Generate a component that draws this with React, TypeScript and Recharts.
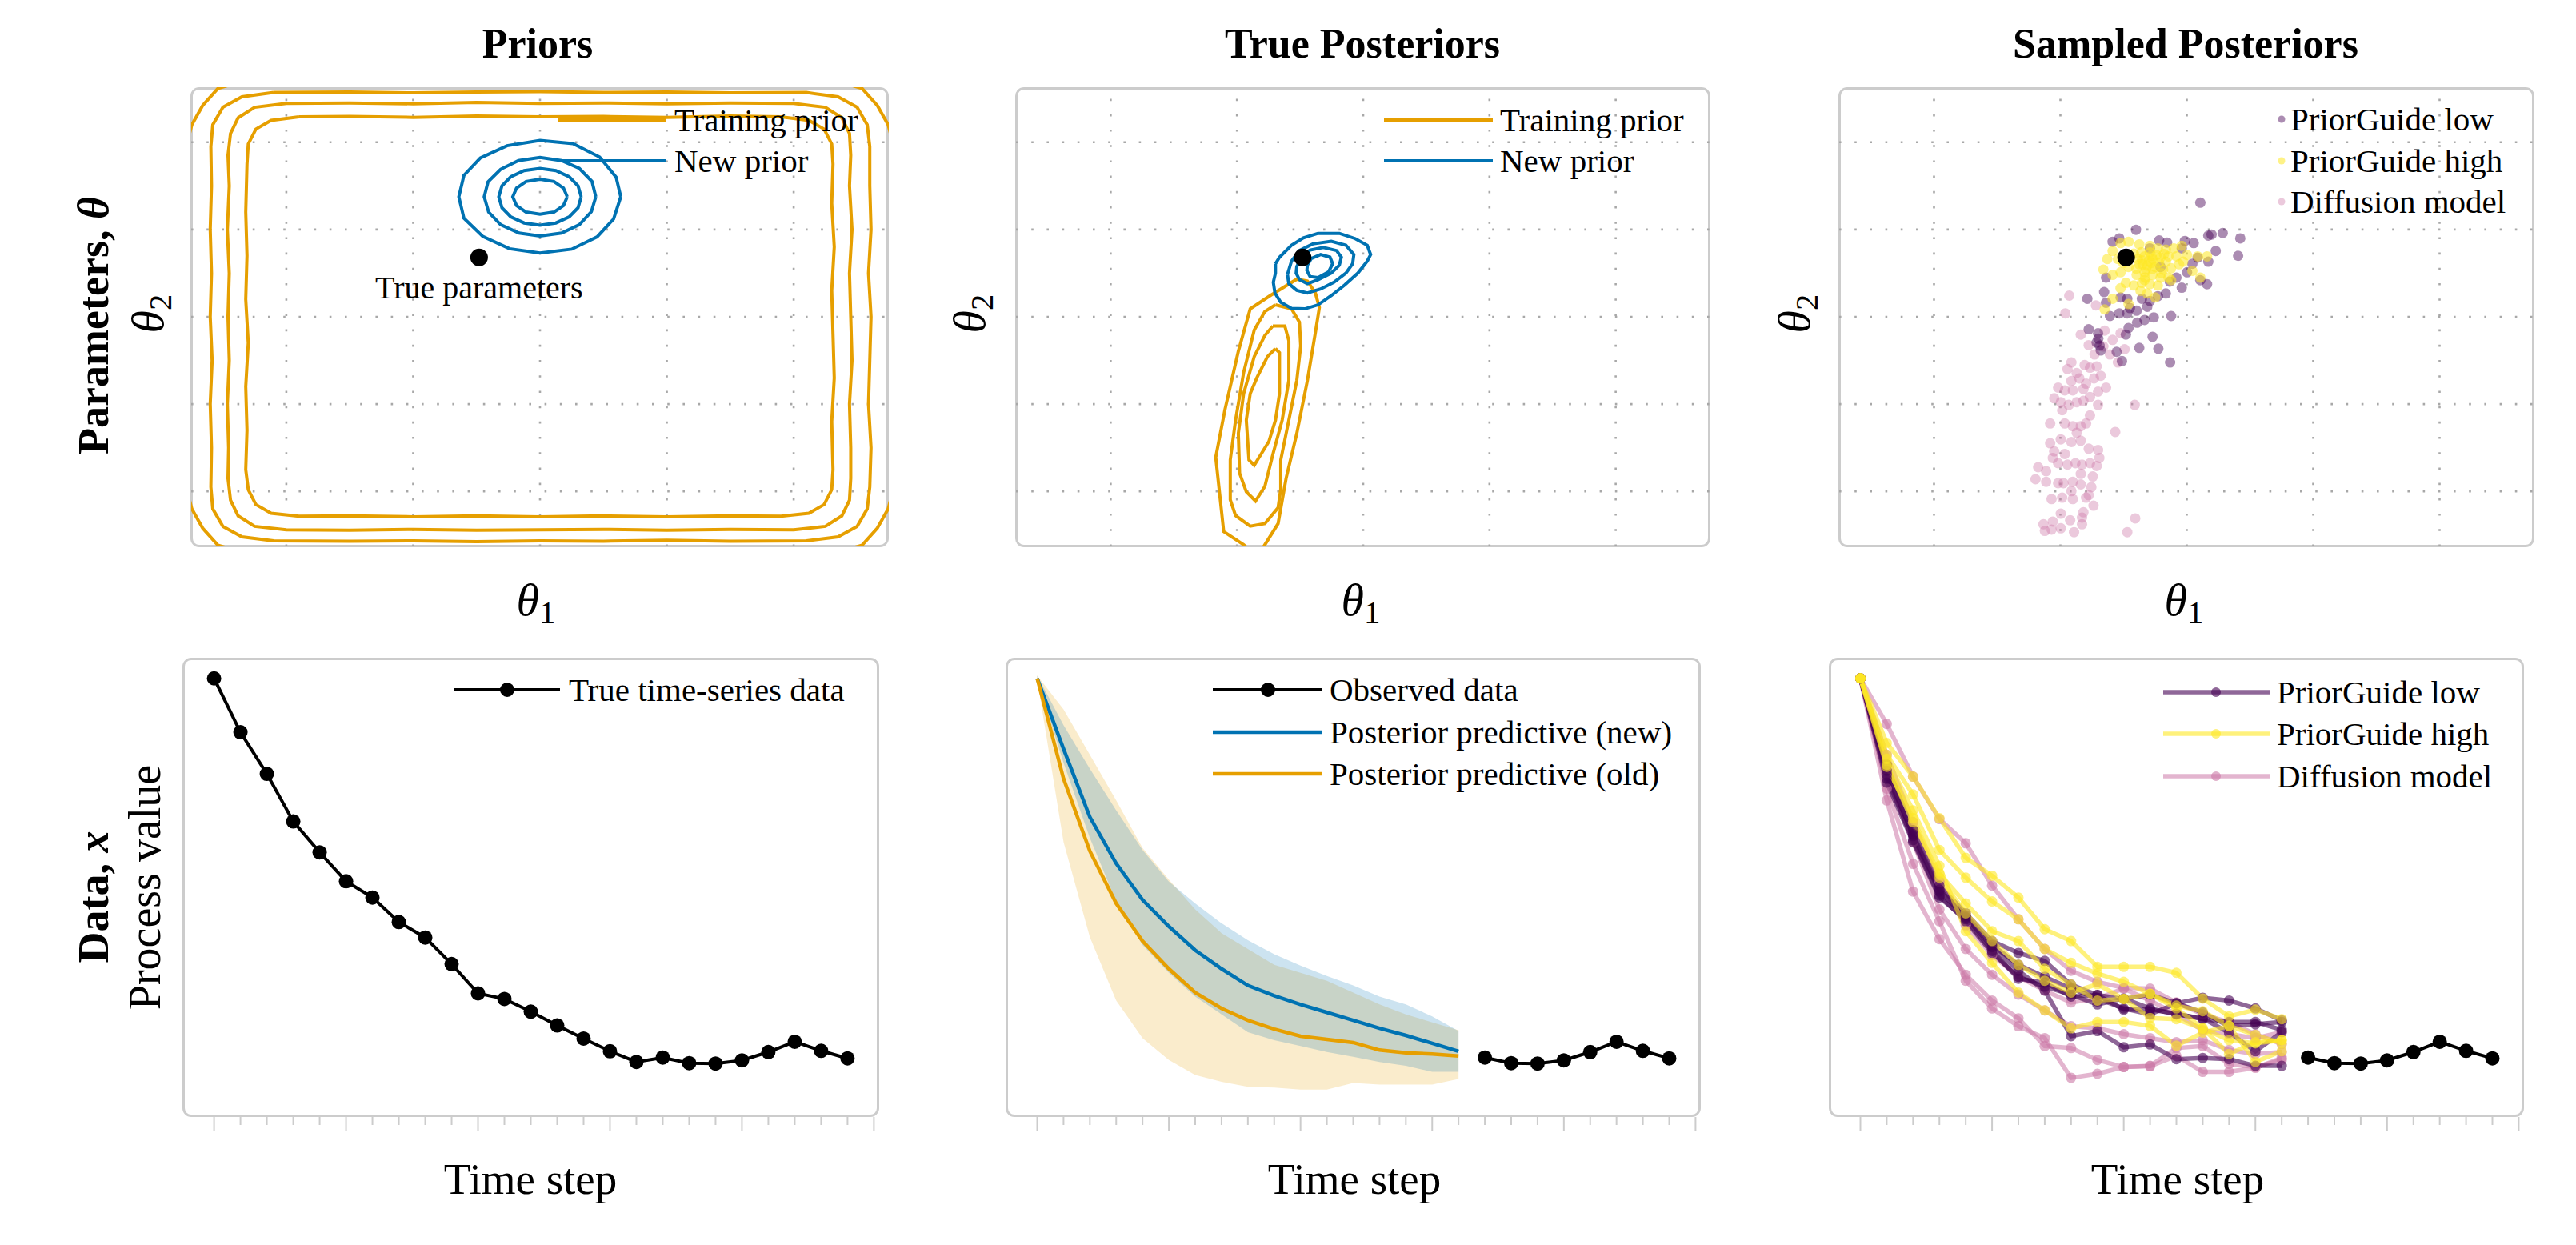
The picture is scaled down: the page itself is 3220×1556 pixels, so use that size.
import React from "react";
import { ComposedChart, Scatter, Line, Area, XAxis, YAxis, ReferenceLine, ReferenceDot } from "recharts";

const SERIF = '"Liberation Serif", "Times New Roman", serif';
const ORANGE = "#E69F00";
const BLUE = "#0072B2";
const LOW = "#440154";
const HIGH = "#fde725";
const DIFF = "#cc79a7";
const FRAME = "#cccccc";
const GRID = "#a8a8a8";

type P = [number, number];

// parameter space (theta_1, theta_2)
const THETA_X_DOMAIN = [-2.75, 2.75];
const THETA_Y_DOMAIN = [-2.63, 2.63];
const THETA_TICKS = [-2, -1, 0, 1, 2];
const TRUE_THETA = { x: -0.48, y: 0.68 };

// training prior: near-uniform box, kde contours
const trainingPriorRings: P[][] = [
  [[-2.1, 2.57], [-1.5, 2.575], [-1.0, 2.565], [-0.5, 2.575], [0, 2.58], [0.5, 2.57], [1.0, 2.575], [1.5, 2.565], [2.1, 2.57],
   [2.35, 2.52], [2.5, 2.4], [2.58, 2.2], [2.6, 1.95], [2.6, 1.5], [2.61, 1.0], [2.59, 0.5], [2.61, 0], [2.6, -0.5], [2.59, -1.0], [2.61, -1.5], [2.6, -1.95],
   [2.58, -2.2], [2.5, -2.4], [2.35, -2.52], [2.1, -2.565], [1.5, -2.57], [1.0, -2.56], [0.5, -2.57], [0, -2.565], [-0.5, -2.575], [-1.0, -2.565], [-1.5, -2.57], [-2.1, -2.565],
   [-2.35, -2.52], [-2.5, -2.4], [-2.58, -2.2], [-2.595, -1.95], [-2.59, -1.5], [-2.6, -1.0], [-2.585, -0.5], [-2.6, 0], [-2.59, 0.5], [-2.6, 1.0], [-2.59, 1.5], [-2.595, 1.95],
   [-2.58, 2.2], [-2.5, 2.4], [-2.35, 2.52]],
  [[-2.0, 2.445], [-1.5, 2.45], [-1.0, 2.44], [-0.5, 2.455], [0, 2.445], [0.5, 2.45], [1.0, 2.44], [1.5, 2.45], [2.0, 2.445],
   [2.25, 2.4], [2.38, 2.28], [2.44, 2.1], [2.45, 1.85], [2.44, 1.5], [2.46, 1.0], [2.44, 0.5], [2.45, 0], [2.46, -0.5], [2.44, -1.0], [2.45, -1.5], [2.45, -1.85],
   [2.44, -2.1], [2.38, -2.28], [2.25, -2.4], [2.0, -2.44], [1.5, -2.435], [1.0, -2.445], [0.5, -2.435], [0, -2.44], [-0.5, -2.445], [-1.0, -2.435], [-1.5, -2.445], [-2.0, -2.44],
   [-2.25, -2.4], [-2.38, -2.28], [-2.44, -2.1], [-2.46, -1.85], [-2.455, -1.5], [-2.465, -1.0], [-2.45, -0.5], [-2.46, 0], [-2.45, 0.5], [-2.465, 1.0], [-2.45, 1.5], [-2.46, 1.85],
   [-2.44, 2.1], [-2.38, 2.28], [-2.25, 2.4]],
  [[-1.9, 2.29], [-1.5, 2.295], [-1.0, 2.285], [-0.5, 2.3], [0, 2.29], [0.5, 2.295], [1.0, 2.285], [1.5, 2.3], [1.9, 2.29],
   [2.12, 2.25], [2.24, 2.15], [2.3, 1.98], [2.31, 1.75], [2.3, 1.3], [2.32, 0.8], [2.3, 0.3], [2.31, -0.2], [2.32, -0.7], [2.3, -1.2], [2.31, -1.75],
   [2.3, -1.98], [2.24, -2.15], [2.12, -2.25], [1.9, -2.285], [1.5, -2.28], [1.0, -2.29], [0.5, -2.28], [0, -2.29], [-0.5, -2.28], [-1.0, -2.29], [-1.5, -2.28], [-1.9, -2.285],
   [-2.12, -2.25], [-2.24, -2.15], [-2.3, -1.98], [-2.32, -1.75], [-2.31, -1.3], [-2.32, -0.8], [-2.3, -0.3], [-2.32, 0.2], [-2.31, 0.7], [-2.32, 1.2], [-2.31, 1.75],
   [-2.3, 1.98], [-2.24, 2.15], [-2.12, 2.25]],
  [[-2.3, 2.72], [2.3, 2.72], [2.54, 2.615], [2.66, 2.42], [2.745, 2.2], [2.8, 1.9], [2.8, -1.9], [2.745, -2.2], [2.66, -2.42], [2.54, -2.615], [2.3, -2.72],
   [-2.3, -2.72], [-2.54, -2.615], [-2.66, -2.42], [-2.745, -2.2], [-2.8, -1.9], [-2.8, 1.9], [-2.745, 2.2], [-2.66, 2.42], [-2.54, 2.615]],
];

// new prior: narrow gaussian
const newPriorRings: P[][] = [
  [[0.637, 1.375], [0.6, 1.6], [0.47, 1.83], [0.26, 1.985], [0, 2.02], [-0.26, 1.96], [-0.47, 1.82], [-0.6, 1.62], [-0.64, 1.375], [-0.6, 1.13], [-0.45, 0.92], [-0.24, 0.78], [0, 0.73], [0.25, 0.775], [0.45, 0.915], [0.58, 1.12]],
  [[0.44, 1.375], [0.41, 1.55], [0.31, 1.7], [0.17, 1.79], [0, 1.825], [-0.17, 1.79], [-0.31, 1.69], [-0.41, 1.545], [-0.44, 1.375], [-0.405, 1.2], [-0.31, 1.055], [-0.165, 0.96], [0, 0.925], [0.17, 0.96], [0.31, 1.055], [0.405, 1.205]],
  [[0.325, 1.375], [0.3, 1.5], [0.23, 1.605], [0.125, 1.675], [0, 1.7], [-0.125, 1.675], [-0.23, 1.605], [-0.3, 1.5], [-0.325, 1.375], [-0.3, 1.25], [-0.23, 1.145], [-0.125, 1.075], [0, 1.05], [0.125, 1.075], [0.23, 1.145], [0.3, 1.25]],
  [[0.215, 1.375], [0.185, 1.475], [0.11, 1.55], [0, 1.575], [-0.11, 1.55], [-0.185, 1.475], [-0.215, 1.375], [-0.185, 1.275], [-0.11, 1.2], [0, 1.175], [0.11, 1.2], [0.185, 1.275]],
];

// true posterior under new prior
const postNewRings: P[][] = [
  [[-0.695, 0.607], [-0.663, 0.683], [-0.568, 0.82], [-0.474, 0.905], [-0.358, 0.956], [-0.189, 0.956], [-0.063, 0.896], [0.032, 0.82], [0.059, 0.713], [0.032, 0.638],
   [-0.042, 0.501], [-0.147, 0.364], [-0.253, 0.243], [-0.358, 0.137], [-0.463, 0.091], [-0.568, 0.097], [-0.653, 0.167], [-0.699, 0.273], [-0.712, 0.395], [-0.695, 0.501]],
  [[-0.6, 0.486], [-0.568, 0.638], [-0.505, 0.759], [-0.4, 0.835], [-0.253, 0.865], [-0.137, 0.82], [-0.074, 0.713], [-0.084, 0.607], [-0.137, 0.501], [-0.232, 0.395],
   [-0.337, 0.319], [-0.442, 0.273], [-0.526, 0.304], [-0.589, 0.379]],
  [[-0.526, 0.577], [-0.484, 0.698], [-0.421, 0.765], [-0.316, 0.795], [-0.211, 0.759], [-0.173, 0.683], [-0.189, 0.592], [-0.253, 0.501], [-0.358, 0.425], [-0.442, 0.379], [-0.505, 0.425], [-0.531, 0.501]],
  [[-0.442, 0.592], [-0.411, 0.668], [-0.337, 0.713], [-0.263, 0.683], [-0.242, 0.607], [-0.274, 0.516], [-0.358, 0.449], [-0.421, 0.461], [-0.446, 0.531]],
];

// true posterior under training prior
const postOldRings: P[][] = [
  [[-0.88, -2.7], [-0.947, -2.611], [-1.105, -2.459], [-1.168, -1.609], [-1.095, -1.063], [-0.989, -0.395], [-0.895, 0.091], [-0.737, 0.243], [-0.526, 0.431], [-0.442, 0.41],
   [-0.379, 0.273], [-0.347, 0.106], [-0.379, -0.182], [-0.442, -0.729], [-0.526, -1.336], [-0.611, -1.852], [-0.674, -2.368], [-0.779, -2.611], [-0.817, -2.7]],
  [[-0.695, 0.137], [-0.568, 0.091], [-0.505, -0.061], [-0.495, -0.334], [-0.526, -0.729], [-0.589, -1.184], [-0.653, -1.639], [-0.653, -1.973], [-0.674, -2.186], [-0.779, -2.368],
   [-0.895, -2.398], [-1.011, -2.277], [-1.053, -2.095], [-1.053, -1.639], [-1.011, -1.184], [-0.947, -0.638], [-0.863, -0.152], [-0.779, 0.061]],
  [[-0.716, -0.106], [-0.621, -0.106], [-0.589, -0.273], [-0.589, -0.729], [-0.642, -1.184], [-0.716, -1.579], [-0.779, -1.943], [-0.853, -2.11], [-0.926, -2.004], [-0.979, -1.791],
   [-0.989, -1.336], [-0.947, -0.88], [-0.863, -0.455], [-0.779, -0.213]],
  [[-0.695, -0.364], [-0.663, -0.41], [-0.663, -0.88], [-0.695, -1.184], [-0.747, -1.427], [-0.863, -1.7], [-0.905, -1.639], [-0.926, -1.184], [-0.895, -0.88], [-0.842, -0.698], [-0.758, -0.455]],
];

// sampled posteriors
const lowSamples: P[] = [
  [0.107, 1.307], [-0.402, 0.997], [-0.219, 0.875], [-0.156, 0.851], [-0.587, 0.86], [-0.534, 0.899], [-0.015, 0.869], [0.055, 0.845], [0.17, 0.93], [0.196, 0.942],
  [0.284, 0.96], [0.423, 0.899], [0.229, 0.754], [0.406, 0.699], [0.17, 0.632], [0.002, 0.51], [0.044, 0.608], [0.107, 0.419], [0.16, 0.374], [-0.04, 0.334],
  [-0.135, 0.404], [-0.166, 0.267], [-0.229, 0.237], [-0.292, 0.182], [-0.355, 0.207], [-0.471, 0.207], [-0.524, 0.222], [-0.639, 0.45], [-0.654, 0.283], [-0.787, 0.207],
  [-0.608, 0.009], [-0.534, 0.04], [-0.471, 0.04], [-0.397, 0.07], [-0.334, -0.036], [-0.261, -0.006], [-0.124, 0.009], [-0.393, -0.067], [-0.461, -0.128], [-0.776, -0.143],
  [-0.702, -0.188], [-0.713, -0.295], [-0.681, -0.386], [-0.555, -0.401], [-0.513, -0.507], [-0.482, -0.204], [-0.271, -0.228], [-0.376, -0.356], [-0.225, -0.365], [-0.132, -0.523],
  [-0.313, 0.115], [-0.639, 0.161], [-0.082, 0.45], [0.086, 0.678], [-0.208, 0.571], [-0.04, 0.784], [-0.292, 0.784], [-0.7, -0.25], [-0.69, -0.33], [-0.45, 0.1],
];
const highSamples: P[] = [
  [-0.524, 0.845], [-0.461, 0.86], [-0.376, 0.83], [-0.292, 0.814], [-0.229, 0.784], [-0.166, 0.769], [-0.103, 0.784], [-0.04, 0.814], [-0.587, 0.754], [-0.629, 0.662],
  [-0.66, 0.541], [-0.545, 0.662], [-0.419, 0.723], [-0.334, 0.693], [-0.271, 0.662], [-0.208, 0.678], [-0.145, 0.693], [-0.082, 0.693], [0.002, 0.708], [0.086, 0.693],
  [0.16, 0.693], [-0.376, 0.602], [-0.313, 0.586], [-0.25, 0.571], [-0.187, 0.541], [-0.124, 0.556], [-0.061, 0.602], [-0.461, 0.571], [-0.524, 0.51], [-0.587, 0.48],
  [-0.397, 0.48], [-0.334, 0.51], [-0.271, 0.48], [-0.208, 0.45], [-0.145, 0.45], [-0.482, 0.389], [-0.419, 0.359], [-0.355, 0.389], [-0.292, 0.374], [-0.229, 0.359],
  [-0.524, 0.328], [-0.587, 0.207], [-0.65, 0.085], [-0.313, 0.267], [-0.25, 0.222], [-0.366, 0.298], [-0.461, 0.146], [-0.334, 0.419], [-0.282, 0.617], [-0.355, 0.647],
  [-0.24, 0.708], [-0.387, 0.662], [-0.324, 0.541], [-0.124, 0.419], [-0.029, 0.632], [0.044, 0.526], [0.107, 0.45], [-0.166, 0.632], [-0.292, 0.738], [-0.503, 0.617],
  [-0.35, 0.6], [-0.3, 0.64], [-0.27, 0.55], [-0.22, 0.62], [-0.33, 0.45], [-0.4, 0.55], [-0.2, 0.5], [-0.28, 0.7], [-0.36, 0.74], [-0.18, 0.72],
];
const diffSamples: P[] = [
  [-0.93, 0.243], [-0.961, 0.04], [-0.719, 0.131], [-0.839, -0.204], [-0.776, -0.325], [-0.73, -0.431], [-0.66, -0.34], [-0.587, -0.264], [-0.524, -0.188], [-0.545, -0.523],
  [-0.492, -0.371], [-0.913, -0.523], [-0.944, -0.599], [-0.871, -0.644], [-0.808, -0.553], [-0.766, -0.583], [-0.713, -0.568], [-0.913, -0.735], [-0.85, -0.705], [-0.797, -0.766],
  [-0.734, -0.705], [-0.681, -0.675], [-0.639, -0.811], [-1.018, -0.811], [-0.965, -0.842], [-0.902, -0.842], [-0.818, -0.826], [-0.766, -0.918], [-0.702, -0.857], [-1.049, -0.933],
  [-0.997, -0.978], [-0.934, -1.009], [-0.871, -0.978], [-0.818, -0.963], [-0.702, -1.009], [-0.986, -1.07], [-0.766, -1.13], [-0.412, -1.009], [-1.081, -1.222], [-0.965, -1.222],
  [-0.902, -1.252], [-0.839, -1.252], [-0.797, -1.222], [-0.871, -1.328], [-0.566, -1.319], [-0.997, -1.404], [-0.913, -1.434], [-0.839, -1.419], [-0.776, -1.51], [-0.702, -1.525],
  [-1.081, -1.449], [-1.049, -1.541], [-0.965, -1.571], [-1.06, -1.617], [-1.018, -1.677], [-0.944, -1.693], [-0.881, -1.677], [-0.829, -1.693], [-0.766, -1.677], [-0.713, -1.708],
  [-1.176, -1.723], [-1.113, -1.768], [-0.839, -1.799], [-0.744, -1.829], [-1.197, -1.86], [-1.113, -1.89], [-0.976, -1.905], [-0.902, -1.89], [-0.839, -1.92], [-0.755, -1.951],
  [-0.913, -1.996], [-1.07, -2.088], [-0.986, -2.072], [-0.902, -2.088], [-0.797, -2.072], [-0.738, -2.163], [-0.818, -2.239], [-0.997, -2.255], [-0.923, -2.331], [-0.829, -2.3],
  [-0.829, -2.376], [-1.134, -2.376], [-1.06, -2.346], [-1.123, -2.452], [-1.07, -2.437], [-0.997, -2.422], [-0.892, -2.467], [-0.471, -2.467], [-0.408, -2.309], [-0.776, -2.042],
  [-1.018, -1.905], [-0.692, -1.617], [-0.65, -0.158], [-0.608, -0.431],
];

// time series
const TIME_DOMAIN = [-1.2, 25.2];
const VALUE_DOMAIN = [-0.54, 11.05];
const TIME_TICKS = [0, 1, 2, 3, 4, 5, 6, 7, 8, 9, 10, 11, 12, 13, 14, 15, 16, 17, 18, 19, 20, 21, 22, 23, 24, 25];
const OBS_START = 17;

const trueSeries = [10.53, 9.17, 8.12, 6.92, 6.14, 5.41, 5.0, 4.38, 3.99, 3.32, 2.58, 2.44, 2.12, 1.77, 1.44, 1.12, 0.85, 0.96, 0.82, 0.81, 0.89, 1.1, 1.36, 1.13, 0.94];

const predNew = [10.53, 8.75, 7.03, 5.86, 4.94, 4.27, 3.67, 3.2, 2.78, 2.52, 2.3, 2.1, 1.9, 1.7, 1.52, 1.32, 1.12];
const predOld = [10.53, 8.0, 6.17, 4.85, 3.9, 3.2, 2.6, 2.2, 1.9, 1.68, 1.5, 1.42, 1.34, 1.15, 1.08, 1.05, 1.0];
const bandNewHi = [10.6, 9.35, 8.25, 7.2, 6.2, 5.4, 4.85, 4.35, 3.92, 3.57, 3.28, 3.02, 2.78, 2.5, 2.3, 2.0, 1.63];
const bandNewLo = [10.5, 8.4, 6.5, 4.9, 3.8, 3.1, 2.5, 2.05, 1.6, 1.4, 1.25, 1.1, 0.98, 0.85, 0.75, 0.6, 0.6];
const bandOldHi = [10.6, 9.75, 8.6, 7.45, 6.25, 5.45, 4.7, 4.1, 3.7, 3.3, 3.1, 2.9, 2.6, 2.3, 2.05, 1.85, 1.65];
const bandOldLo = [10.5, 6.4, 4.0, 2.4, 1.45, 0.9, 0.52, 0.35, 0.22, 0.2, 0.15, 0.15, 0.32, 0.28, 0.28, 0.28, 0.42];

const lowRuns = [
  [10.53, 8.35, 6.7, 5.3, 4.6, 3.9, 3.6, 3.4, 2.8, 2.54, 2.44, 2.55, 2.33, 2.47, 2.4, 2.2, 1.9],
  [10.53, 7.9, 6.4, 5.0, 4.45, 3.65, 2.95, 2.85, 2.5, 2.54, 2.17, 2.17, 2.07, 1.93, 1.86, 1.86, 1.66],
  [10.53, 8.2, 6.55, 5.15, 4.5, 3.75, 3.15, 2.65, 1.5, 1.63, 1.22, 1.29, 0.92, 0.95, 0.92, 0.75, 0.75],
  [10.53, 8.0, 6.45, 5.05, 4.4, 3.6, 3.0, 2.75, 2.55, 2.3, 2.45, 2.2, 2.05, 1.95, 1.59, 1.12, 1.6],
  [10.53, 8.1, 6.6, 5.2, 4.55, 3.8, 3.3, 3.0, 2.7, 2.45, 2.2, 2.05, 2.33, 2.1, 1.75, 1.8, 1.86],
];
const highRuns = [
  [10.53, 8.9, 8.05, 7.0, 6.0, 5.55, 5.0, 4.2, 3.9, 3.25, 3.25, 3.25, 3.1, 2.45, 2.0, 2.17, 1.93],
  [10.53, 8.6, 7.6, 6.2, 5.5, 4.9, 4.45, 3.7, 3.35, 3.08, 2.87, 2.57, 2.27, 2.13, 1.76, 1.53, 1.32],
  [10.53, 8.35, 6.9, 5.6, 4.85, 4.15, 3.9, 3.2, 2.8, 2.4, 2.44, 1.96, 1.93, 1.69, 1.4, 1.32, 1.4],
  [10.53, 8.5, 7.2, 5.8, 4.15, 3.35, 2.6, 2.15, 1.7, 1.86, 1.86, 1.76, 1.26, 1.59, 1.76, 0.85, 1.12],
  [10.53, 8.3, 7.0, 5.5, 4.6, 3.9, 3.3, 2.9, 2.6, 2.81, 2.44, 2.57, 2.2, 1.7, 1.05, 1.35, 1.4],
];
const diffRuns = [
  [10.53, 9.38, 8.05, 6.98, 6.37, 5.3, 4.45, 3.7, 3.15, 2.87, 2.72, 2.7, 2.35, 2.05, 1.85, 1.55, 1.3],
  [10.53, 8.6, 6.9, 5.4, 4.3, 3.55, 3.0, 2.65, 2.35, 2.45, 2.7, 2.4, 2.05, 1.65, 1.55, 1.45, 1.6],
  [10.53, 8.1, 6.4, 4.7, 3.7, 3.05, 2.55, 2.15, 1.75, 1.7, 1.55, 1.45, 1.35, 1.4, 1.15, 1.05, 1.1],
  [10.53, 7.45, 5.15, 3.95, 3.05, 2.4, 1.95, 1.25, 1.2, 0.9, 0.72, 0.75, 1.2, 1.25, 0.8, 0.72, 0.9],
  [10.53, 7.75, 5.85, 4.4, 2.9, 2.2, 1.75, 1.45, 0.45, 0.55, 0.72, 0.74, 1.0, 0.6, 0.6, 0.7, 0.95],
];

const pts = (list: P[]) => list.map(([x, y]) => ({ x, y }));
const ring = (list: P[]) => pts([...list, list[0]]);
const rows = (vals: number[], start = 0) => vals.map((v, i) => ({ t: i + start, v }));
const predRows = predNew.map((v, t) => ({
  t,
  newBand: [bandNewLo[t], bandNewHi[t]],
  oldBand: [bandOldLo[t], bandOldHi[t]],
}));

const noDot = () => <g />;
const dotShape = (color: string, r: number, op: number) => (p: any) => (
  <circle cx={p.cx} cy={p.cy} r={r} fill={color} fillOpacity={op} />
);

// major tick every 5 steps, minor tick every step
const timeTick = (p: any) => {
  const major = p.payload.value % 5 === 0;
  return <line x1={p.x} x2={p.x} y1={p.y} y2={p.y + (major ? 17 : 10)} stroke={FRAME} strokeWidth={2} />;
};

function Frame({ w, h }: { w: number; h: number }) {
  return (
    <div style={{ position: "absolute", left: 0, top: 0, width: w, height: h, border: `3px solid ${FRAME}`, borderRadius: 11, boxSizing: "border-box" }} />
  );
}

function ThetaPanel({ left, width, children }: { left: number; width: number; children: React.ReactNode }) {
  return (
    <div style={{ position: "absolute", left, top: 109, width, height: 575 }}>
      <Frame w={width} h={575} />
      <div style={{ position: "absolute", left: 0, top: 0 }}>
        <ComposedChart width={width} height={575} margin={{ top: 0, right: 0, bottom: 0, left: 0 }}>
          <XAxis type="number" dataKey="x" domain={THETA_X_DOMAIN} ticks={THETA_TICKS} allowDataOverflow tick={false} tickLine={false} axisLine={false} height={1} />
          <YAxis type="number" dataKey="y" domain={THETA_Y_DOMAIN} ticks={THETA_TICKS} allowDataOverflow tick={false} tickLine={false} axisLine={false} width={1} />
          {THETA_TICKS.map((v) => (
            <ReferenceLine key={`gx${v}`} x={v} stroke={GRID} strokeWidth={2.6} strokeDasharray="2.6 16.6" />
          ))}
          {THETA_TICKS.map((v) => (
            <ReferenceLine key={`gy${v}`} y={v} stroke={GRID} strokeWidth={2.6} strokeDasharray="2.6 16.6" />
          ))}
          {children}
        </ComposedChart>
      </div>
    </div>
  );
}

function TimePanel({ left, width, children }: { left: number; width: number; children: React.ReactNode }) {
  return (
    <div style={{ position: "absolute", left, top: 822, width, height: 574 }}>
      <Frame w={width} h={574} />
      <div style={{ position: "absolute", left: 0, top: 0 }}>
        <ComposedChart width={width} height={604} margin={{ top: 0, right: 0, bottom: 0, left: 0 }}>
          <XAxis type="number" dataKey="t" domain={TIME_DOMAIN} ticks={TIME_TICKS} allowDataOverflow interval={0}
            tick={timeTick} tickSize={0} tickMargin={0} tickLine={false} axisLine={false} height={30} />
          <YAxis type="number" domain={VALUE_DOMAIN} allowDataOverflow tick={false} tickLine={false} axisLine={false} width={0} />
          {children}
        </ComposedChart>
      </div>
    </div>
  );
}

function Txt({ x, y, size, bold, rotate, start, children }: { x: number; y: number; size: number; bold?: boolean; rotate?: boolean; start?: boolean; children: React.ReactNode }) {
  return (
    <div
      style={{
        position: "absolute", left: x, top: y, fontSize: size, lineHeight: 1, whiteSpace: "nowrap",
        fontWeight: bold ? "bold" : "normal",
        transform: `translate(${start ? "0" : "-50%"}, -50%)${rotate ? " rotate(-90deg)" : ""}`,
      }}
    >
      {children}
    </div>
  );
}

const Theta = ({ sub }: { sub: string }) => (
  <span>
    <span style={{ fontStyle: "italic" }}>θ</span>
    <span style={{ fontSize: "0.7em", position: "relative", top: "0.25em" }}>{sub}</span>
  </span>
);

const blackDot = { r: 9, fill: "#000", stroke: "#000", strokeWidth: 0 };
const runDot = (c: string) => ({ r: 6.5, fill: c, fillOpacity: 0.6, stroke: "none" });

export default function App() {
  const ctr = (c: string, w = 4) => ({ stroke: c, strokeWidth: w, fill: "none" });
  return (
    <div style={{ position: "absolute", left: 0, top: 0, width: 3220, height: 1556, background: "#fff", fontFamily: SERIF, color: "#000", overflow: "hidden" }}>
      <Txt x={672} y={55} size={52} bold>Priors</Txt>
      <Txt x={1703} y={55} size={52} bold>True Posteriors</Txt>
      <Txt x={2732} y={55} size={52} bold>Sampled Posteriors</Txt>

      <ThetaPanel left={238} width={873}>
        {trainingPriorRings.map((r, i) => (
          <Scatter key={`tp${i}`} data={ring(r)} line={ctr(ORANGE)} shape={noDot} isAnimationActive={false} />
        ))}
        {newPriorRings.map((r, i) => (
          <Scatter key={`np${i}`} data={ring(r)} line={ctr(BLUE)} shape={noDot} isAnimationActive={false} />
        ))}
        <ReferenceDot x={TRUE_THETA.x} y={TRUE_THETA.y} r={11} fill="#000" stroke="none"
          label={{ value: "True parameters", position: "bottom", offset: 12, fontSize: 40, fontFamily: SERIF, fill: "#000" }} />
      </ThetaPanel>

      <ThetaPanel left={1269} width={869}>
        {postOldRings.map((r, i) => (
          <Scatter key={`po${i}`} data={ring(r)} line={ctr(ORANGE)} shape={noDot} isAnimationActive={false} />
        ))}
        {postNewRings.map((r, i) => (
          <Scatter key={`pn${i}`} data={ring(r)} line={ctr(BLUE)} shape={noDot} isAnimationActive={false} />
        ))}
        <ReferenceDot x={TRUE_THETA.x} y={TRUE_THETA.y} r={11} fill="#000" stroke="none" />
      </ThetaPanel>

      <ThetaPanel left={2298} width={870}>
        <Scatter data={pts(diffSamples)} shape={dotShape(DIFF, 6.5, 0.4)} isAnimationActive={false} />
        <Scatter data={pts(lowSamples)} shape={dotShape(LOW, 6.5, 0.45)} isAnimationActive={false} />
        <Scatter data={pts(highSamples)} shape={dotShape(HIGH, 6.5, 0.55)} isAnimationActive={false} />
        <ReferenceDot x={TRUE_THETA.x} y={TRUE_THETA.y} r={11} fill="#000" stroke="none" />
      </ThetaPanel>

      <TimePanel left={228} width={871}>
        <Line data={rows(trueSeries)} dataKey="v" stroke="#000" strokeWidth={4} dot={blackDot} activeDot={false} isAnimationActive={false} />
      </TimePanel>

      <TimePanel left={1257} width={869}>
        <Area data={predRows} dataKey="oldBand" stroke="none" fill={ORANGE} fillOpacity={0.2} dot={false} activeDot={false} isAnimationActive={false} />
        <Area data={predRows} dataKey="newBand" stroke="none" fill={BLUE} fillOpacity={0.2} dot={false} activeDot={false} isAnimationActive={false} />
        <Line data={rows(predNew)} dataKey="v" stroke={BLUE} strokeWidth={4.5} dot={false} activeDot={false} isAnimationActive={false} />
        <Line data={rows(predOld)} dataKey="v" stroke={ORANGE} strokeWidth={4.5} dot={false} activeDot={false} isAnimationActive={false} />
        <Line data={rows(trueSeries.slice(OBS_START), OBS_START)} dataKey="v" stroke="#000" strokeWidth={4} dot={blackDot} activeDot={false} isAnimationActive={false} />
      </TimePanel>

      <TimePanel left={2286} width={869}>
        {diffRuns.map((r, i) => (
          <Line key={`d${i}`} data={rows(r)} dataKey="v" stroke={DIFF} strokeOpacity={0.55} strokeWidth={5.5} dot={runDot(DIFF)} activeDot={false} isAnimationActive={false} />
        ))}
        {lowRuns.map((r, i) => (
          <Line key={`l${i}`} data={rows(r)} dataKey="v" stroke={LOW} strokeOpacity={0.6} strokeWidth={5.5} dot={runDot(LOW)} activeDot={false} isAnimationActive={false} />
        ))}
        {highRuns.map((r, i) => (
          <Line key={`h${i}`} data={rows(r)} dataKey="v" stroke={HIGH} strokeOpacity={0.6} strokeWidth={5.5} dot={runDot(HIGH)} activeDot={false} isAnimationActive={false} />
        ))}
        <Line data={rows(trueSeries.slice(OBS_START), OBS_START)} dataKey="v" stroke="#000" strokeWidth={4} dot={blackDot} activeDot={false} isAnimationActive={false} />
      </TimePanel>

      {/* legend handles */}
      <svg width={3220} height={1556} style={{ position: "absolute", left: 0, top: 0, pointerEvents: "none" }}>
        <line x1={698} x2={833} y1={150} y2={150} stroke={ORANGE} strokeWidth={4} />
        <line x1={698} x2={833} y1={201} y2={201} stroke={BLUE} strokeWidth={4} />
        <line x1={1730} x2={1866} y1={150} y2={150} stroke={ORANGE} strokeWidth={4} />
        <line x1={1730} x2={1866} y1={201} y2={201} stroke={BLUE} strokeWidth={4} />
        <circle cx={2852} cy={149} r={4.5} fill={LOW} fillOpacity={0.45} />
        <circle cx={2852} cy={201} r={4.5} fill={HIGH} fillOpacity={0.55} />
        <circle cx={2852} cy={252} r={4.5} fill={DIFF} fillOpacity={0.4} />
        <line x1={567} x2={700} y1={862} y2={862} stroke="#000" strokeWidth={4} />
        <circle cx={634} cy={862} r={9} fill="#000" />
        <line x1={1516} x2={1652} y1={862} y2={862} stroke="#000" strokeWidth={4} />
        <circle cx={1585} cy={862} r={9} fill="#000" />
        <line x1={1516} x2={1652} y1={915} y2={915} stroke={BLUE} strokeWidth={4.5} />
        <line x1={1516} x2={1652} y1={967} y2={967} stroke={ORANGE} strokeWidth={4.5} />
        <line x1={2704} x2={2837} y1={865} y2={865} stroke={LOW} strokeOpacity={0.6} strokeWidth={5.5} />
        <circle cx={2770} cy={865} r={6} fill={LOW} fillOpacity={0.6} />
        <line x1={2704} x2={2837} y1={917} y2={917} stroke={HIGH} strokeOpacity={0.6} strokeWidth={5.5} />
        <circle cx={2770} cy={917} r={6} fill={HIGH} fillOpacity={0.6} />
        <line x1={2704} x2={2837} y1={970} y2={970} stroke={DIFF} strokeOpacity={0.55} strokeWidth={5.5} />
        <circle cx={2770} cy={970} r={6} fill={DIFF} fillOpacity={0.6} />
      </svg>

      <Txt x={843} y={150} size={41} start>Training prior</Txt>
      <Txt x={843} y={201} size={41} start>New prior</Txt>
      <Txt x={1875} y={150} size={41} start>Training prior</Txt>
      <Txt x={1875} y={201} size={41} start>New prior</Txt>
      <Txt x={2863} y={149} size={41} start>PriorGuide low</Txt>
      <Txt x={2863} y={201} size={41} start>PriorGuide high</Txt>
      <Txt x={2863} y={252} size={41} start>Diffusion model</Txt>
      <Txt x={711} y={862} size={41} start>True time-series data</Txt>
      <Txt x={1662} y={862} size={41} start>Observed data</Txt>
      <Txt x={1662} y={915} size={41} start>Posterior predictive (new)</Txt>
      <Txt x={1662} y={967} size={41} start>Posterior predictive (old)</Txt>
      <Txt x={2846} y={865} size={41} start>PriorGuide low</Txt>
      <Txt x={2846} y={917} size={41} start>PriorGuide high</Txt>
      <Txt x={2846} y={970} size={41} start>Diffusion model</Txt>

      <Txt x={670} y={750} size={58}><Theta sub="1" /></Txt>
      <Txt x={1701} y={750} size={58}><Theta sub="1" /></Txt>
      <Txt x={2730} y={750} size={58}><Theta sub="1" /></Txt>
      <Txt x={185} y={392} size={58} rotate><Theta sub="2" /></Txt>
      <Txt x={1212} y={392} size={58} rotate><Theta sub="2" /></Txt>
      <Txt x={2243} y={392} size={58} rotate><Theta sub="2" /></Txt>

      <Txt x={117} y={407} size={54} bold rotate>Parameters, <i>θ</i></Txt>
      <Txt x={117} y={1121} size={54} bold rotate>Data, <i>x</i></Txt>
      <Txt x={181} y={1109} size={56} rotate>Process value</Txt>

      <Txt x={663} y={1473} size={55}>Time step</Txt>
      <Txt x={1693} y={1473} size={55}>Time step</Txt>
      <Txt x={2722} y={1473} size={55}>Time step</Txt>
    </div>
  );
}
